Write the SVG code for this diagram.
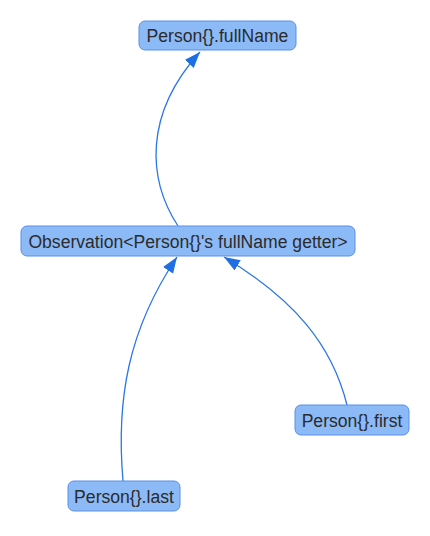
<svg xmlns="http://www.w3.org/2000/svg" width="430" height="536" viewBox="0 0 430 536">
<style>
.node rect{fill:#8cbaf7;stroke:#5b8fe6;stroke-width:1}
.node text{font-family:"Liberation Sans",Arial,sans-serif;font-size:17.6px;fill:#2b2b2b;text-anchor:middle;dominant-baseline:central}
.edge{fill:none;stroke:#2a76e6;stroke-width:1.3}
</style>
<defs>
<marker id="arr" viewBox="0 0 16 12" refX="16" refY="6" markerWidth="16" markerHeight="12" markerUnits="userSpaceOnUse" orient="auto">
<path d="M0,0 L16,6 L0,12 z" fill="#1f6fe3"/>
</marker>
</defs>
<rect width="430" height="536" fill="#ffffff"/>
<g id="connectors">
<path class="edge" d="M178,226 C148,180 143,115 200,52" marker-end="url(#arr)"/>
<path class="edge" d="M123,481 C116,400 128,330 177,257" marker-end="url(#arr)"/>
<path class="edge" d="M347,405 C332,345 295,300 224,257" marker-end="url(#arr)"/>
</g>
<g id="n-fullName" class="node"><rect x="139" y="21" width="157" height="29" rx="6"/><text x="217.5" y="36">Person{}.fullName</text></g>
<g id="n-observation" class="node"><rect x="21" y="226" width="334" height="30" rx="6"/><text x="188" y="241.5">Observation&lt;Person{}'s fullName getter&gt;</text></g>
<g id="n-first" class="node"><rect x="295" y="405" width="114" height="30" rx="6"/><text x="352" y="420.5">Person{}.first</text></g>
<g id="n-last" class="node"><rect x="68" y="481" width="112" height="30" rx="6"/><text x="124" y="496.5">Person{}.last</text></g>
</svg>
